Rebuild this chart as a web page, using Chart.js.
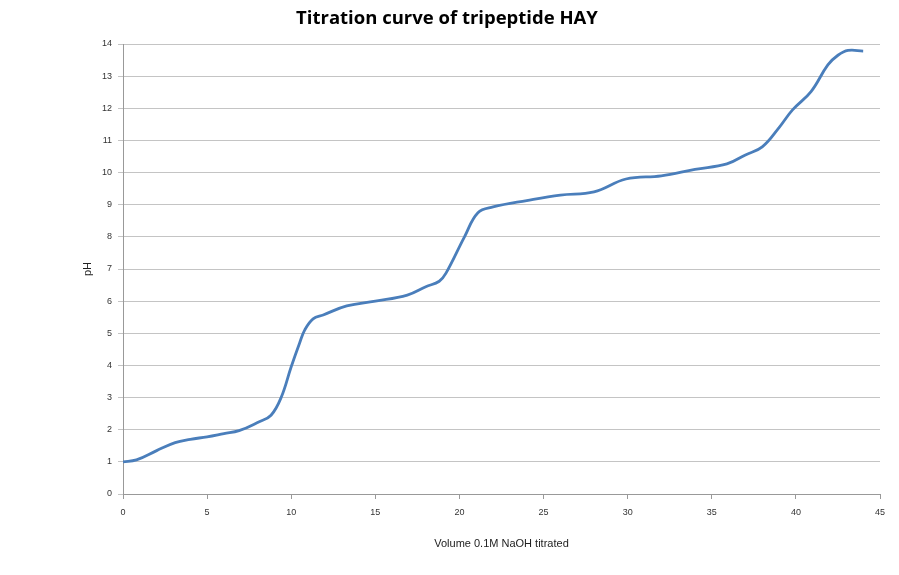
<!DOCTYPE html>
<html><head><meta charset="utf-8">
<script src="https://cdn.jsdelivr.net/npm/chart.js@4/dist/chart.umd.min.js"></script>
<style>html,body{margin:0;padding:0;background:#fff}#wrap{width:899px;height:575px}</style>
</head><body><div id="wrap"><canvas id="c" width="899" height="575"></canvas></div>
<script>
const volume = [0, 0.8, 2, 3.1, 4, 5, 6, 6.9, 8.1, 8.8, 9.4, 10, 10.5, 10.8, 11.3, 11.9, 13.3, 15, 16.9, 18, 18.8, 19.2, 20.3, 21.1, 22, 24, 26, 28, 29.9, 32, 34, 35.9, 37, 38, 39, 39.8, 40.9, 41.9, 42.5, 43.1, 44];
const pH = [1.0, 1.06, 1.35, 1.6, 1.7, 1.78, 1.88, 1.97, 2.25, 2.45, 3.0, 3.96, 4.7, 5.1, 5.45, 5.57, 5.85, 6.0, 6.19, 6.45, 6.62, 6.87, 8.0, 8.75, 8.93, 9.13, 9.3, 9.4, 9.8, 9.9, 10.1, 10.27, 10.55, 10.8, 11.4, 11.95, 12.52, 13.35, 13.65, 13.8, 13.78];
const xTicks = [0, 5, 10, 15, 20, 25, 30, 35, 40, 45];
const yTicks = [0,1,2,3,4,5,6,7,8,9,10,11,12,13,14];
const titleText = 'Titration curve of tripeptide HAY';
const xTitle = 'Volume 0.1M NaOH titrated';
const yTitle = 'pH';

const pts = volume.map((v, i) => ({x: v, y: pH[i]}));
const tickFont = {family: 'Liberation Sans', size: 9};
new Chart(document.getElementById('c'), {
  type: 'line',
  data: {datasets: [{data: pts, borderColor: '#4A7EBB', borderWidth: 2.8, pointRadius: 0, tension: 0.4, fill: false}]},
  options: {
    responsive: false, animation: false,
    layout: {padding: {left: 14, right: 19, top: 0, bottom: 20}},
    plugins: {
      legend: {display: false}, tooltip: {enabled: false},
      title: {display: true, text: titleText, color: '#000', font: {family: 'Open Sans', size: 18.5, weight: 'bold'}, padding: {top: 8, bottom: 13.8}}
    },
    scales: {
      x: {
        type: 'linear', min: 0, max: 45,
        afterBuildTicks: s => { s.ticks = xTicks.map(v => ({value: v})); },
        afterFit: s => { s.height = 61; },
        ticks: {color: '#333', font: tickFont, padding: 8, maxRotation: 0},
        grid: {drawOnChartArea: false, color: '#999', tickLength: 5},
        border: {color: '#999'},
        title: {display: true, text: xTitle, color: '#222', font: {family: 'Liberation Sans', size: 11}, padding: {top: 4, bottom: 4}}
      },
      y: {
        min: 0, max: 14,
        afterBuildTicks: s => { s.ticks = yTicks.map(v => ({value: v})); },
        afterFit: s => { s.width = 109; },
        ticks: {color: '#333', font: tickFont, padding: 6},
        grid: {color: '#c4c4c4', lineWidth: 1, tickLength: 5},
        border: {color: '#999'},
        title: {display: true, text: yTitle, color: '#222', font: {family: 'Liberation Sans', size: 11}, padding: {top: 67, bottom: 0}}
      }
    }
  }
});
</script></body></html>
